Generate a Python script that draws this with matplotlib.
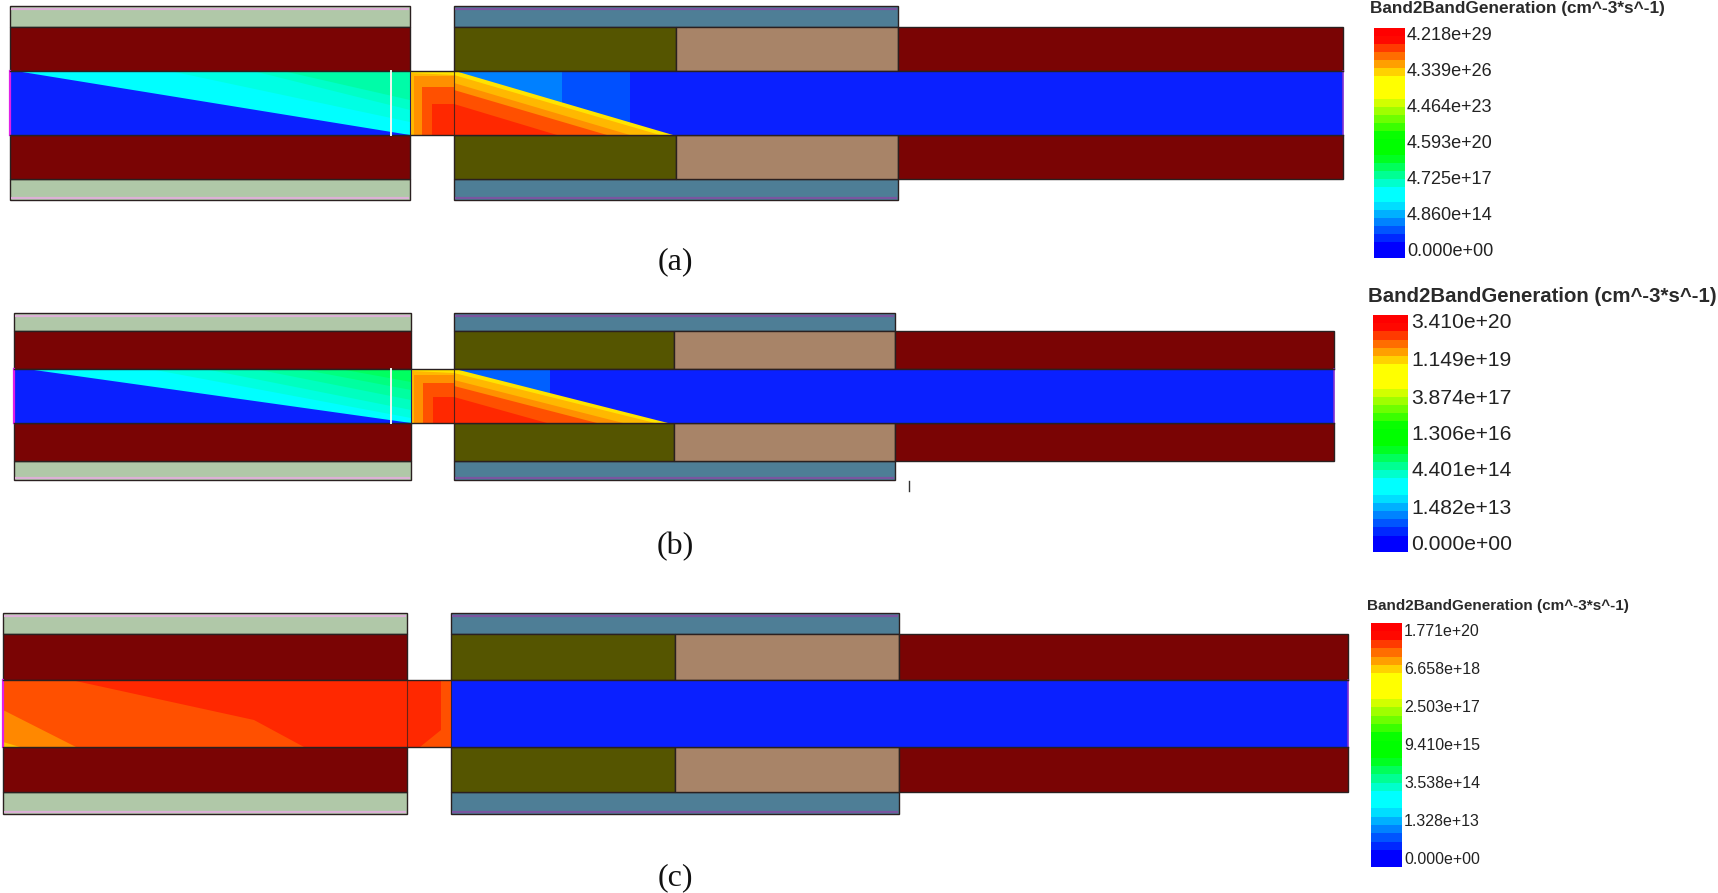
import matplotlib
matplotlib.use('Agg')
import matplotlib.pyplot as plt
import numpy as np
from matplotlib.colors import LinearSegmentedColormap
from matplotlib.patches import Polygon, Rectangle

# colours of the device regions
oxide_left = '#b0c8a8'
oxide_right = '#4e7e96'
contact = '#7a0404'
gate_1 = '#555500'
gate_2 = '#a88468'
blue_base = '#0a20ff'
edge = '#2a2020'

# panel labels and colour bar labels
panel_labels = ['(a)', '(b)', '(c)']
bar_title = 'Band2BandGeneration (cm^-3*s^-1)'
ticks_a = ['4.218e+29', '4.339e+26', '4.464e+23', '4.593e+20', '4.725e+17', '4.860e+14', '0.000e+00']
ticks_b = ['3.410e+20', '1.149e+19', '3.874e+17', '1.306e+16', '4.401e+14', '1.482e+13', '0.000e+00']
ticks_c = ['1.771e+20', '6.658e+18', '2.503e+17', '9.410e+15', '3.538e+14', '1.328e+13', '0.000e+00']

# device outlines, in picture pixels
x_a = [10, 410, 454, 676, 898, 1343]
y_a = [6, 27, 71, 135, 179, 200]
x_b = [14, 411, 454, 674, 895, 1334]
y_b = [313, 331, 369, 423, 461, 480]
x_c = [3, 407, 451, 675, 899, 1348]
y_c = [613, 634, 680, 747, 792, 814]

# field contours: (colour, corner points), drawn in this order
contours_a = [
    ('#0080ff', [(454, 71), (562, 71), (562, 135), (454, 135)]),
    ('#0050ff', [(562, 71), (630, 71), (630, 135), (562, 135)]),
    ('#00ffff', [(16, 71), (410, 71), (410, 135)]),
    ('#00ffe4', [(170, 71), (410, 71), (410, 122)]),
    ('#00ffc8', [(253, 71), (410, 71), (410, 110)]),
    ('#00fca8', [(283, 71), (410, 71), (410, 100)]),
    ('#ffe400', [(411, 71), (455, 71), (673, 135), (411, 135)]),
    ('#ffb800', [(411, 73), (454, 75), (660, 135), (411, 135)]),
    ('#ff9000', [(414, 76), (454, 76), (454, 83), (630, 135), (414, 135)]),
    ('#ff5000', [(422, 87), (454, 87), (454, 90), (607, 135), (422, 135)]),
    ('#ff2800', [(432, 104), (454, 104), (557, 135), (432, 135)]),
]
contours_b = [
    ('#0060ff', [(454, 369), (550, 369), (550, 423), (454, 423)]),
    ('#00ffff', [(27, 369), (411, 369), (411, 423)]),
    ('#00ffe0', [(150, 369), (411, 369), (411, 418)]),
    ('#00ffc0', [(205, 369), (411, 369), (411, 410)]),
    ('#00ffa0', [(255, 369), (411, 369), (411, 400)]),
    ('#00ff80', [(300, 369), (411, 369), (411, 390)]),
    ('#00ff60', [(340, 369), (411, 369), (411, 382)]),
    ('#ffe400', [(412, 369), (455, 369), (668, 423), (412, 423)]),
    ('#ffb800', [(412, 371), (454, 373), (655, 423), (412, 423)]),
    ('#ff9000', [(414, 375), (454, 375), (454, 380), (623, 423), (414, 423)]),
    ('#ff5000', [(423, 383), (454, 383), (454, 386), (597, 423), (423, 423)]),
    ('#ff2800', [(433, 397), (454, 397), (547, 423), (433, 423)]),
]
contours_c = [
    ('#ff2800', [(3, 680), (451, 680), (451, 747), (3, 747)]),
    ('#ff5000', [(3, 680), (71, 680), (254, 720), (304, 747), (3, 747)]),
    ('#ff8800', [(3, 710), (76, 747), (3, 747)]),
    ('#ffc000', [(3, 742), (20, 747), (3, 747)]),
    ('#ff5000', [(441, 680), (451, 680), (451, 747), (420, 747), (441, 730)]),
]

# white cut lines inside the channel
cut_a = [391, 71, 135]
cut_b = [391, 369, 423]

# colour bars: left, right, top, bottom, tick x, tick y, tick size, title x, title y, title size
bar_a = [1374, 1405, 28, 258, 1407, [35, 71, 108, 144, 180, 216, 252], 13.1, 1370, 9, 12.4]
bar_b = [1373, 1408, 315, 552, 1411, [323, 360, 398, 434, 471, 508, 544], 15.2, 1368, 297, 14.7]
bar_c = [1371, 1402, 623, 867, 1404, [632, 669, 707, 746, 784, 822, 860], 11.5, 1367, 606, 11.0]
label_y = [262, 547, 878]
label_x = 675

band_stops = [(0.0, '#0000ff'), (0.04, '#0000ff'), (0.24, '#00ffff'), (0.29, '#00ffff'), (0.45, '#00ff00'),
              (0.53, '#00ff00'), (0.71, '#ffff00'), (0.79, '#ffff00'), (0.97, '#ff0000'), (1.0, '#ff0000')]
band_map = LinearSegmentedColormap.from_list('bands', band_stops, N=29)


def add_rect(ax, x0, x1, y0, y1, color, lw=1.0, z=2):
    ax.add_patch(Rectangle((x0, y0), x1 - x0, y1 - y0, facecolor=color, edgecolor=edge, linewidth=lw, zorder=z))


def draw_device(ax, xs, ys, contours, cut):
    # outer oxide strips and their coloured rims
    for y0, y1, rim in [(ys[0], ys[1], ys[0] + 2.5), (ys[4], ys[5], ys[5] - 2.5)]:
        add_rect(ax, xs[0], xs[1], y0, y1, oxide_left)
        add_rect(ax, xs[2], xs[4], y0, y1, oxide_right)
        ax.plot([xs[0] + 1, xs[1] - 1], [rim, rim], color='#dcb0d6', lw=1.6, zorder=3, solid_capstyle='butt')
        ax.plot([xs[2] + 1, xs[4] - 1], [rim, rim], color='#7a55a0', lw=1.6, zorder=3, solid_capstyle='butt')
    for y0, y1 in [(ys[1], ys[2]), (ys[3], ys[4])]:
        add_rect(ax, xs[0], xs[1], y0, y1, contact)
        add_rect(ax, xs[2], xs[3], y0, y1, gate_1)
        add_rect(ax, xs[3], xs[4], y0, y1, gate_2)
        add_rect(ax, xs[4], xs[5], y0, y1, contact)
    # channel
    ax.add_patch(Rectangle((xs[0], ys[2]), xs[5] - xs[0], ys[3] - ys[2], facecolor=blue_base, edgecolor='none', zorder=2))
    for color, pts in contours:
        ax.add_patch(Polygon(pts, closed=True, facecolor=color, edgecolor='none', zorder=2.1))
    ax.plot([xs[0], xs[0]], [ys[2], ys[3]], color='#e020e8', lw=1.6, zorder=3)
    ax.plot([xs[5], xs[5]], [ys[2], ys[3]], color='#8030d0', lw=1.2, zorder=3)
    ax.plot([xs[0], xs[5]], [ys[2], ys[2]], color=edge, lw=1.0, zorder=3)
    ax.plot([xs[0], xs[5]], [ys[3], ys[3]], color=edge, lw=1.0, zorder=3)
    ax.plot([xs[1], xs[1]], [ys[2] - 1, ys[3] + 1], color=edge, lw=0.8, alpha=0.7, zorder=3)
    ax.plot([xs[2], xs[2]], [ys[2], ys[3]], color=edge, lw=0.8, alpha=0.8, zorder=3)
    if cut is not None:
        ax.plot([cut[0], cut[0]], [cut[1], cut[2]], color='#f0f8f0', lw=1.4, zorder=3.5)


def draw_bar(ax, bar, ticks):
    left, right, top, bottom, tick_x, tick_y, tick_size, title_x, title_y, title_size = bar
    grad = np.linspace(1, 0, 29).reshape(-1, 1)
    ax.imshow(grad, cmap=band_map, extent=(left, right, bottom, top), aspect='auto', interpolation='nearest', zorder=2)
    for lab, y in zip(ticks, tick_y):
        ax.text(tick_x, y, lab, fontsize=tick_size, family='Liberation Sans', color='#222222', va='center', ha='left')
    ax.text(title_x, title_y, bar_title, fontsize=title_size, family='Liberation Sans', weight='bold', color='#2a2a2a', va='center', ha='left')


fig = plt.figure(figsize=(17.18, 8.93), dpi=100)
ax = fig.add_axes([0, 0, 1, 1])

draw_device(ax, x_a, y_a, contours_a, cut_a)
draw_device(ax, x_b, y_b, contours_b, cut_b)
draw_device(ax, x_c, y_c, contours_c, None)

# small stray tick under panel b
ax.plot([909, 909], [481, 491], color='#333333', lw=1.0)

draw_bar(ax, bar_a, ticks_a)
draw_bar(ax, bar_b, ticks_b)
draw_bar(ax, bar_c, ticks_c)

for lab, y in zip(panel_labels, label_y):
    ax.text(label_x, y, lab, fontsize=23, family='Liberation Serif', color='#111111', ha='center', va='center')

ax.set_xlim(0, 1718)
ax.set_ylim(893, 0)
ax.axis('off')

fig.savefig('out.png', dpi=100)
